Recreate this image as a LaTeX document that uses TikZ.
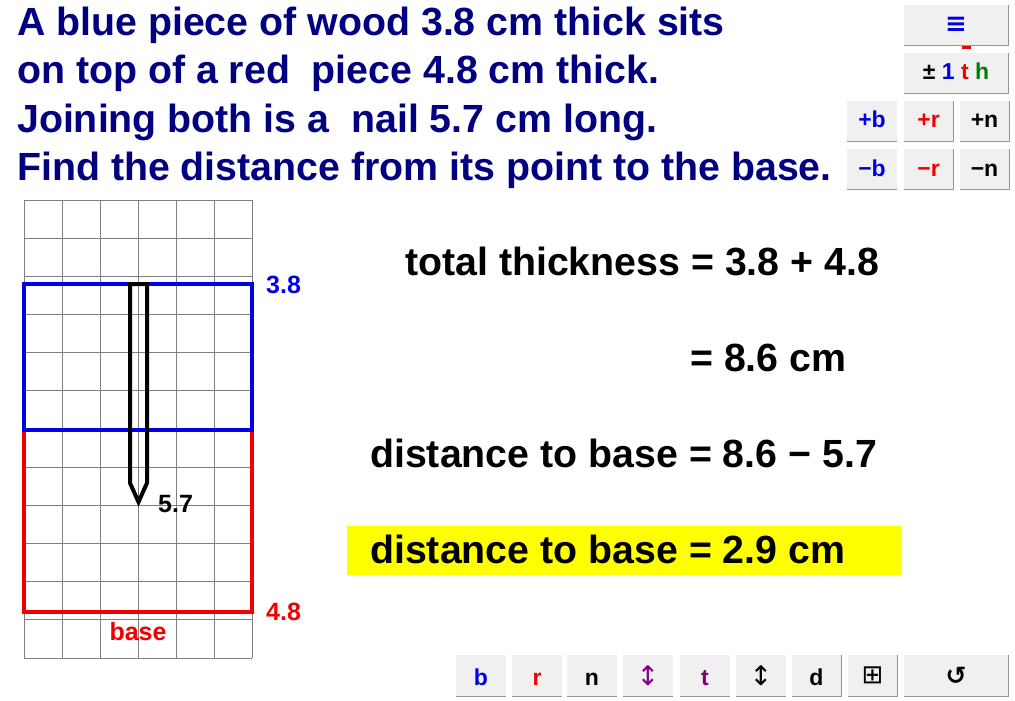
\documentclass[tikz,border=0pt]{standalone}
\usepackage{fontspec}
\setmainfont{Liberation Sans}
\newfontfamily\symfont{DejaVu Sans}
\definecolor{navy}{RGB}{0,0,128}
\definecolor{bblue}{RGB}{0,0,230}
\definecolor{rred}{RGB}{240,0,0}
\definecolor{ggreen}{RGB}{0,128,0}
\definecolor{ppurple}{RGB}{128,0,128}
\definecolor{btnbg}{RGB}{240,240,240}
\definecolor{btndark}{RGB}{150,150,150}
\definecolor{gridc}{RGB}{128,128,128}
\definecolor{hiyellow}{RGB}{255,255,0}
\begin{document}
\begin{tikzpicture}[x=1pt,y=-1pt,
  title/.style={anchor=base west, inner sep=0pt, text=navy, font=\fontsize{39.3}{46}\selectfont\bfseries},
  calc/.style={anchor=base west, inner sep=0pt, text=black, font=\fontsize{39.3}{46}\selectfont\bfseries},
  lbl/.style={anchor=base west, inner sep=0pt, font=\fontsize{25}{28}\selectfont\bfseries},
  btn/.style={rectangle, fill=btnbg, draw=white, line width=0.8pt, minimum width=51pt, minimum height=42pt, inner sep=0pt,
    font=\fontsize{23}{26}\selectfont\bfseries,
    path picture={\draw[line width=2pt, btndark] (path picture bounding box.south west) -- (path picture bounding box.south east) -- (path picture bounding box.north east);}},
  widebtn/.style={btn, minimum width=106pt},
  toptxt/.style={text height=14pt, text depth=0pt},
  bottxt/.style={minimum height=43pt, text height=20pt, text depth=-3pt},
  botsym/.style={minimum height=43pt},
  gridline/.style={draw=gridc, line width=1pt},
  blueline/.style={draw=bblue, line width=4pt},
  redline/.style={draw=rred, line width=4pt},
  nailline/.style={draw=black, line width=4pt, line join=miter}]
\useasboundingbox (0,0) rectangle (1015,701);

% title
\node[title] (t1) at (17,36) {A blue piece of wood 3.8 cm thick sits};
\node[title] (t2) at (17,84) {on top of a red\ \ piece 4.8 cm thick.};
\node[title] (t3) at (17,132) {Joining both is a\ \ nail 5.7 cm long.};
\node[title] (t4) at (17,180) {Find the distance from its point to the base.};

% grid
\foreach \i in {0,...,6} \draw[gridline] ({24+38*\i},200) -- ({24+38*\i},658);
\foreach \j in {0,...,12} \draw[gridline] (24,{200+38.17*\j}) -- (252,{200+38.17*\j});

% wood pieces
\draw[redline] (24,430) -- (24,612) -- (252,612) -- (252,430);
\draw[blueline] (24,284) rectangle (252,430);

% nail
\draw[nailline] (130,284) -- (130,483) -- (138.5,502) -- (147,483) -- (147,284) -- cycle;

% labels
\node[lbl, text=bblue] (l38) at (266,293) {3.8};
\node[lbl, text=rred] (l48) at (266,620) {4.8};
\node[lbl, text=black] (l57) at (158,512) {5.7};
\node[lbl, text=rred, anchor=base] (lbase) at (138,640) {base};

% calculation
\node[calc] (c1) at (405,275) {total thickness = 3.8 + 4.8};
\node[calc] (c2) at (690,371) {= 8.6 cm};
\node[calc] (c3) at (370,467) {distance to base = 8.6 − 5.7};
\fill[hiyellow] (347,526) rectangle (901,575);
\node[calc] (c4) at (370,563) {distance to base = 2.9 cm};

% top-right buttons
\node[widebtn, text=bblue] (bmenu) at (956,25) {\symfont\fontsize{26}{28}\selectfont ≡};
\node[widebtn, toptxt] (bpm) at (956,73) {±\ \textcolor{bblue}{1}\ \textcolor{rred}{t}\ \textcolor{ggreen}{h}};
\fill[rred] (962,46.5) rectangle (971,49.5);
\node[btn, toptxt, text=bblue] (bpb) at (872,121) {+b};
\node[btn, toptxt, text=rred] (bpr) at (928.5,121) {+r};
\node[btn, toptxt, text=black] (bpn) at (984.5,121) {+n};
\node[btn, toptxt, text=bblue] (bmb) at (872,169) {−b};
\node[btn, toptxt, text=rred] (bmr) at (928.5,169) {−r};
\node[btn, toptxt, text=black] (bmn) at (984.5,169) {−n};

% bottom buttons
\node[btn, bottxt, text=bblue] (bb) at (481,675.5) {b};
\node[btn, bottxt, text=rred] (br) at (537,675.5) {r};
\node[btn, bottxt, text=black] (bn) at (592,675.5) {n};
\node[btn, botsym, text=ppurple] (barr1) at (648,675.5) {\symfont\mdseries\fontsize{27}{30}\selectfont ↕};
\node[btn, bottxt, text=ppurple] (bt) at (705,675.5) {t};
\node[btn, botsym, text=black] (barr2) at (761,675.5) {\symfont\mdseries\fontsize{27}{30}\selectfont ↕};
\node[btn, bottxt, text=black] (bd) at (816.5,675.5) {d};
\node[btn, botsym, text=black] (bgrid) at (872.5,675.5) {\symfont\mdseries\fontsize{26}{30}\selectfont ⊞};
\node[widebtn, botsym, text=black] (breset) at (956,675.5) {\symfont\fontsize{25}{28}\selectfont ↺};
\end{tikzpicture}
\end{document}
